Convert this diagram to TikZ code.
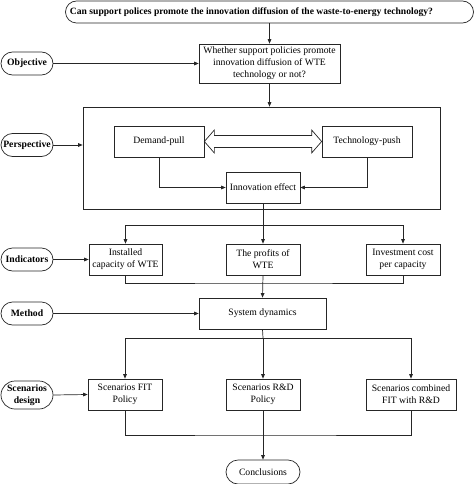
\documentclass[tikz,border=0pt]{standalone}
\usepackage{fontspec}
\setmainfont{Liberation Serif}
\usetikzlibrary{shapes.misc,calc,arrows.meta}
\begin{document}
\begin{tikzpicture}[x=1pt,y=-1pt,
  line width=0.7pt, draw=black!85,
  every node/.style={font=\fontsize{9.7}{12}\selectfont, text=black},
  box/.style={draw=black!85, rectangle, align=center, inner sep=0pt},
  lab/.style={draw=black!85, rounded rectangle, align=center, inner sep=0pt,
    font=\fontsize{9.7}{12}\selectfont\bfseries, minimum width=52pt},
  arr/.style={-{Triangle[length=4.5pt,width=3.6pt]}}
]
\useasboundingbox (0,0) rectangle (474,484);

% question
\node[lab, minimum width=408pt, minimum height=22pt] (q) at (269.5,12) {};
\node[font=\fontsize{9.6}{12}\selectfont\bfseries, inner sep=0pt] (qt) at (251.5,12)
  {Can support polices promote the innovation diffusion of the waste-to-energy technology?};

% objective
\node[box, minimum width=141pt, minimum height=39pt] (w) at (269.5,63.5)
  {Whether support policies promote\\innovation diffusion of WTE\\technology or not?};
\node[lab, minimum height=23pt] (obj) at (27,63.5) {Objective};

% perspective
\node[box, minimum width=357pt, minimum height=102pt] (big) at (261.5,158) {};
\node[box, minimum width=90pt, minimum height=31pt] (dp) at (159,141.5) {Demand-pull};
\node[box, minimum width=90pt, minimum height=31pt] (tp) at (367,141.5) {Technology-push};
\node[box, minimum width=74pt, minimum height=31pt] (ie) at (263,187.5) {Innovation effect};
\node[lab, minimum height=23pt] (persp) at (27,145) {Perspective};

% double hollow arrow between demand-pull and technology-push
\draw[line join=miter]
  (dp.east) -- ++(10,-11.5) -- ++(0,5.5) coordinate (a1)
  -- ($(tp.west)+(-10,-6)$) -- ++(0,-5.5) -- (tp.west)
  -- ++(-10,11.5) -- ++(0,-5.5) -- ($(dp.east)+(10,6)$) -- ++(0,5.5) -- cycle;

% indicators
\node[box, minimum width=73pt, minimum height=31pt] (inst) at (125.5,259.5) {Installed\\capacity of WTE};
\node[box, minimum width=74pt, minimum height=31pt] (prof) at (263,259.5) {The profits of\\WTE};
\node[box, minimum width=74pt, minimum height=31pt] (inv) at (403,259.5) {Investment cost\\per capacity};
\node[lab, minimum height=23pt] (ind) at (27,259.5) {Indicators};

% method
\node[box, minimum width=127pt, minimum height=31pt] (sd) at (262.5,313.5) {System dynamics};
\node[lab, minimum height=23pt] (meth) at (27,313.5) {Method};

% scenarios
\node[box, minimum width=74pt, minimum height=31pt] (fit) at (125,394.5) {Scenarios FIT\\Policy};
\node[box, minimum width=74pt, minimum height=31pt] (rd) at (263,394.5) {Scenarios R\&D\\Policy};
\node[box, minimum width=90pt, minimum height=31pt] (comb) at (411,394.5) {Scenarios combined\\FIT with R\&D};
\node[lab, minimum height=28pt] (scen) at (27,395) {Scenarios\\design};

% conclusions
\node[lab, font=\fontsize{9.7}{12}\selectfont, minimum width=74pt, minimum height=24pt] (conc) at (263,472) {Conclusions};

% connectors
\draw[arr] (q.south -| w.north) -- (w.north);
\draw[arr] (obj.east) -- (w.west);
\draw[arr] (w.south) -- (w.south |- big.north);
\draw[arr] (persp.east) -- (persp.east -| big.west);
\draw[arr] (dp.south) |- (ie.west);
\draw[arr] (tp.south) |- (ie.east);

\coordinate (j1) at (263,225);
\draw (ie.south) -- (j1);
\draw[arr] (j1) -| (inst.north);
\draw[arr] (j1) -| (inv.north);
\draw[arr] (j1) -- (prof.north);
\draw[arr] (ind.east) -- (inst.west);

\coordinate (j2) at (263,283);
\draw (inst.south) |- (j2) -| (inv.south);
\draw[arr] (prof.south) -- (sd.north);
\draw[arr] (meth.east) -- (sd.west);

\coordinate (j3) at (263,338);
\draw (sd.south) -- (j3);
\draw[arr] (j3) -| (fit.north);
\draw[arr] (j3) -| (comb.north);
\draw[arr] (j3) -- (rd.north);
\draw[arr] (scen.east) -- (fit.west);

\coordinate (j4) at (263,435);
\draw (fit.south) |- (j4) -| (comb.south);
\draw[arr] (rd.south) -- (conc.north);
\end{tikzpicture}
\end{document}
